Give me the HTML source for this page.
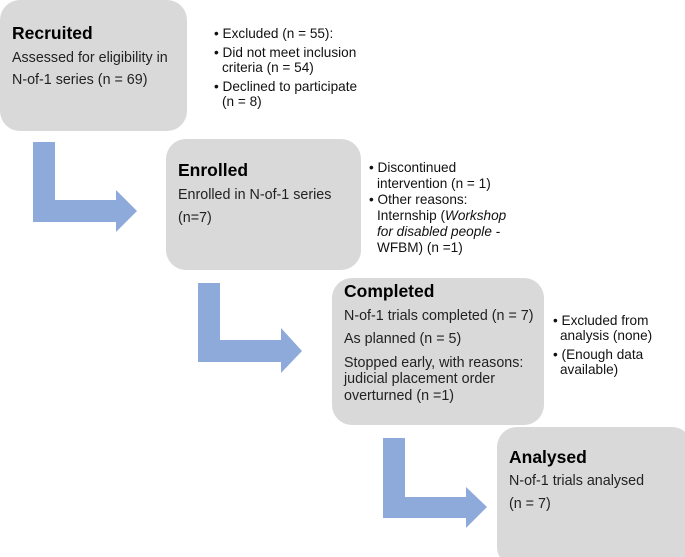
<!DOCTYPE html>
<html><head><meta charset="utf-8"><style>
html,body{margin:0;padding:0;background:#fff;}
svg{display:block;font-family:"Liberation Sans",Arial,sans-serif;}
.t{font-weight:bold;font-size:17.5px;fill:#000;}
.b{font-size:14.3px;fill:#222;}
.s{font-size:13.6px;fill:#111;}
</style></head><body>
<svg width="685" height="557" viewBox="0 0 685 557" xmlns="http://www.w3.org/2000/svg">
<g fill="#d9d9d9">
<rect x="0" y="0" width="187" height="131" rx="20"/>
<rect x="166" y="139" width="195" height="131" rx="20"/>
<rect x="332" y="278" width="212" height="147" rx="20"/>
<rect x="497" y="427" width="195" height="140" rx="20"/>
</g>
<g fill="#8eaadb">
<polygon points="33,142 55,142 55,200 116,200 116,190 137,211 116,232 116,222 33,222"/>
<polygon points="198,283 220,283 220,340 281,340 281,328 302,351 281,373 281,362 198,362"/>
<polygon points="383,438 405,438 405,497 466,497 466,487 487,507 466,528 466,518 383,518"/>
</g>
<text class="t" x="12" y="39">Recruited</text>
<text class="b" x="12" y="62">Assessed for eligibility in</text>
<text class="b" x="12" y="84">N-of-1 series (n = 69)</text>

<g class="s">
<text x="214" y="38">• Excluded (n = 55):</text>
<text x="214" y="57">• Did not meet inclusion</text>
<text x="222" y="72">criteria (n = 54)</text>
<text x="214" y="91">• Declined to participate</text>
<text x="222" y="106">(n = 8)</text>
</g>

<text class="t" x="178" y="176">Enrolled</text>
<text class="b" x="178" y="199">Enrolled in N-of-1 series</text>
<text class="b" x="178" y="222">(n=7)</text>

<g class="s">
<text x="369" y="172">• Discontinued</text>
<text x="377" y="188">intervention (n = 1)</text>
<text x="369" y="204">• Other reasons:</text>
<text x="377" y="220">Internship (<tspan font-style="italic">Workshop</tspan></text>
<text x="377" y="236" font-style="italic">for disabled people -</text>
<text x="377" y="252">WFBM) (n =1)</text>
</g>

<text class="t" x="344" y="297">Completed</text>
<text class="b" x="344" y="320">N-of-1 trials completed (n = 7)</text>
<text class="b" x="344" y="343">As planned (n = 5)</text>
<text class="b" x="344" y="367">Stopped early, with reasons:</text>
<text class="b" x="344" y="383">judicial placement order</text>
<text class="b" x="344" y="400">overturned (n =1)</text>

<g class="s">
<text x="553" y="325">• Excluded from</text>
<text x="560" y="340">analysis (none)</text>
<text x="553" y="359">• (Enough data</text>
<text x="560" y="374">available)</text>
</g>

<text class="t" x="509" y="463">Analysed</text>
<text class="b" x="509" y="485">N-of-1 trials analysed</text>
<text class="b" x="509" y="508">(n = 7)</text>
</svg>
</body></html>
